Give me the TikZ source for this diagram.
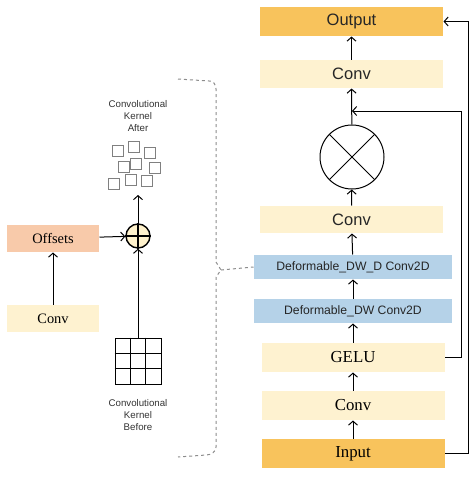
\documentclass[tikz,border=0pt]{standalone}
\usepackage{fontspec}
\setmainfont{Liberation Serif}
\setsansfont{Liberation Sans}
\usetikzlibrary{positioning,arrows.meta,calc}
\definecolor{ioorange}{HTML}{F8C35C}
\definecolor{cream}{HTML}{FEF2D0}
\definecolor{dwblue}{HTML}{B5D2E8}
\definecolor{salmon}{HTML}{F8CAAA}
\definecolor{plusfill}{HTML}{FFF2CC}
\begin{document}
\begin{tikzpicture}[x=1pt, y=-1pt, line width=1pt, >={Straight Barb[length=4pt,width=9pt]},
  layer/.style={inner sep=0pt, minimum width=183pt, minimum height=28pt, fill=cream},
  serifbig/.style={font=\fontsize{16.8}{19}\selectfont},
  sansbig/.style={font=\sffamily\fontsize{16.5}{19}\selectfont, text=black!85},
  dwlayer/.style={inner sep=0pt, minimum width=198pt, minimum height=24pt, fill=dwblue, font=\sffamily\fontsize{12.2}{14}\selectfont, text=black!85},
  kernel/.style={draw=black!50, line width=0.8pt},
  note/.style={align=center, font=\sffamily\fontsize{9.7}{12}\selectfont, text=black!80}]
  \useasboundingbox (0,0) rectangle (474,479);

  % main branch
  \node (input) [layer, serifbig, fill=ioorange, minimum height=29pt] at (353,453.5) {Input};
  \node (conva) [layer, serifbig, minimum height=29pt] at (353,405.5) {Conv};
  \node (gelu) [layer, serifbig, minimum height=29pt] at (353,357.5) {GELU};
  \node (dw) [dwlayer] at (353,311) {Deformable\_DW Conv2D};
  \node (dwd) [dwlayer] at (353,267) {Deformable\_DW\_D Conv2D};
  \node (convb) [layer, sansbig, minimum height=27pt] at (351.5,219.5) {Conv};
  \node (mul) [draw, circle, minimum size=64pt, inner sep=0pt] at (352,157) {};
  \draw (mul.north west) -- (mul.south east) (mul.north east) -- (mul.south west);
  \node (convc) [layer, sansbig] at (351.5,74) {Conv};
  \node (output) [layer, sansbig, fill=ioorange, minimum height=29pt] at (351.5,21.5) {Output};
  \coordinate (join) at (352,111);

  \draw[->] (input) -- (conva);
  \draw[->] (conva) -- (gelu);
  \draw[->] (gelu) -- (dw);
  \draw[->] (dw) -- (dwd);
  \draw[->] (dwd) -- (convb);
  \draw[->] (convb) -- (mul);
  \draw[->] (mul) -- (convc);
  \draw[->] (convc) -- (output);
  \draw[->] (input.east) -- (468,453.5) |- (output.east);
  \draw[->] (gelu.east) -- (461,357.5) |- (join);

  % offset branch
  \node (convl) [layer, minimum width=92pt, minimum height=27pt, font=\fontsize{14.4}{17}\selectfont] at (53,318.5) {Conv};
  \node (offsets) [layer, fill=salmon, minimum width=92pt, minimum height=27pt, font=\fontsize{14.4}{17}\selectfont] at (53,238.5) {Offsets};
  \node (oplus) [draw, circle, fill=plusfill, minimum size=24pt, inner sep=0pt, line width=1.4pt] at (138,236) {};
  \draw[line width=1.4pt] (oplus.north) -- (oplus.south) (oplus.west) -- (oplus.east);
  \node (grid) [draw, minimum size=46pt, inner sep=0pt] at (138,361) {};
  \foreach \k in {1,2} {
    \draw ($(grid.north west)!\k/3!(grid.north east)$) -- ($(grid.south west)!\k/3!(grid.south east)$);
    \draw ($(grid.north west)!\k/3!(grid.south west)$) -- ($(grid.north east)!\k/3!(grid.south east)$);
  }
  \coordinate (after) at (138,195);
  \foreach \cx/\cy in {117.5/150.5, 133.5/146.5, 149.5/152.5, 123.5/166.5, 135.5/164, 154.5/167.5, 113.5/184, 131/180, 146.5/180.5}
    \draw[kernel] (\cx-5.5,\cy-5.5) rectangle (\cx+5.5,\cy+5.5);
  \node (labafter) [note] at (138,116) {Convolutional\\Kernel\\After};
  \node (labbefore) [note] at (138,415) {Convolutional\\Kernel\\Before};

  \draw[->] (convl) -- (offsets);
  \draw[->] (offsets) -- (oplus);
  \draw[->] (grid) -- (oplus);
  \draw[->] (oplus) -- (after);

  % dashed brace
  \coordinate (tip) at (221,270);
  \draw[dashed, black!45, line width=1pt] (178,79) -- (209,81) to[out=10,in=90] (216,89) -- (216,262) -- (tip) -- (216,277) -- (216,447) to[out=-90,in=0] (206,455) -- (178,457);
  \draw[dashed, black!45, line width=1pt] (tip) -- (dwd.west);
\end{tikzpicture}
\end{document}
